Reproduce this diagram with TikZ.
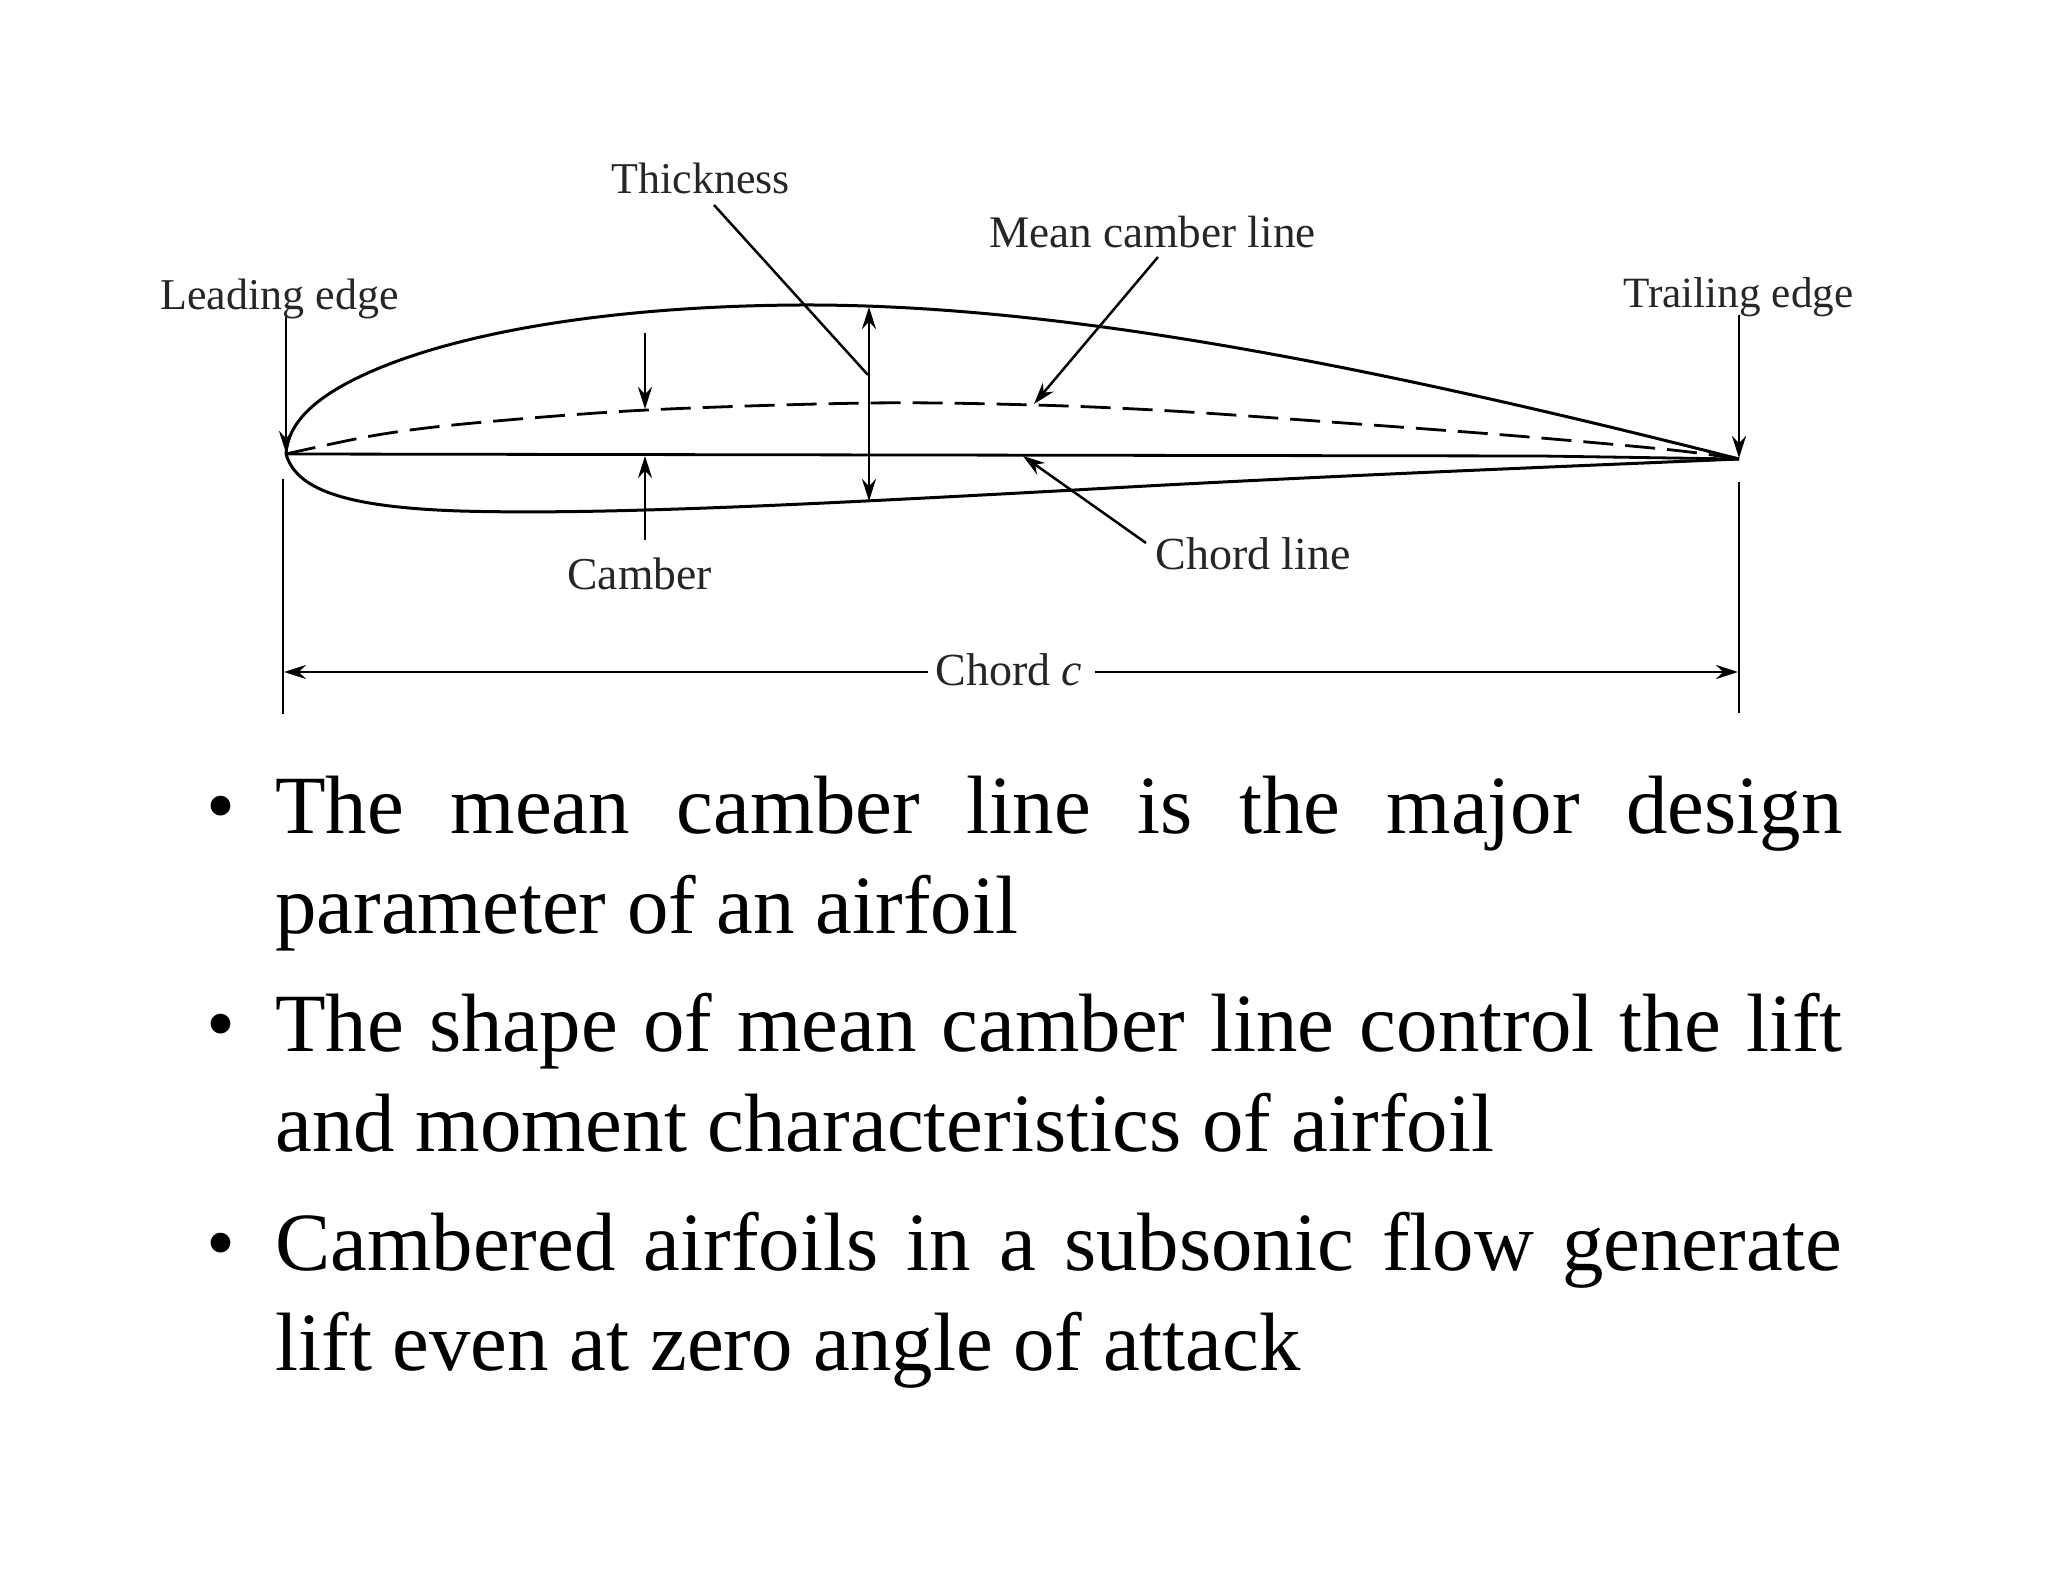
\documentclass[tikz,border=0pt]{standalone}
\usepackage{fontspec}
\setmainfont{Liberation Serif}
\usetikzlibrary{arrows.meta}
\newcommand{\labsize}[1]{\fontsize{#1}{24}\selectfont}
\tikzset{
  foil/.style={line width=1.5pt,black,line join=round},
  camberline/.style={line width=1.4pt,black,dash pattern=on 15pt off 6pt},
  chordl/.style={line width=1.4pt,black},
  leader/.style={line width=1.25pt,black},
  tip/.style={-{Stealth[length=11pt,width=7pt]}},
  tiptwo/.style={{Stealth[length=11pt,width=7pt]}-{Stealth[length=11pt,width=7pt]}},
  lab/.style={anchor=base west,inner sep=0pt,text=black!85},
  body/.style={anchor=base west,inner sep=0pt,font=\fontsize{41.4}{50}\selectfont,text=black},
  dot/.style={anchor=base,inner sep=0pt,font=\fontsize{41.4}{50}\selectfont,text=black}
}
\begin{document}
\begin{tikzpicture}[x=0.5pt,y=-0.5pt]
\useasboundingbox (0,0) rectangle (2048,1582);
% key points
\coordinate (le) at (286,454);
\coordinate (te) at (1739,459);
% airfoil
\draw[foil] (le) .. controls (288,420) and (320,393) .. (377,369)
  .. controls (470,330) and (620,306) .. (800,305)
  .. controls (1050,304) and (1350,360) .. (te);
\draw[foil] (le) .. controls (296,488) and (340,507) .. (460,511)
  .. controls (600,515) and (800,505) .. (1075,490)
  .. controls (1300,477) and (1550,467) .. (te);
\draw[camberline] plot[smooth,tension=0.55] coordinates {(286,454) (377,435) (474,423) (647,410) (870,403) (1034,405) (1172,411) (1344,423) (1517,436) (1672,450) (1739,459)};
\draw[chordl] (le) -- (1540,456) -- (te);
% labels
\node[lab,font=\labsize{22}] (thick) at (611,194) {Thickness};
\node[lab,font=\labsize{22}] (lead) at (160,310) {Leading edge};
\node[lab,font=\labsize{22.6}] (mean) at (989,248) {Mean camber line};
\node[lab,font=\labsize{21.6}] (trail) at (1623,308) {Trailing edge};
\node[lab,font=\labsize{22.8}] (camb) at (567,589) {Camber};
\node[lab,font=\labsize{23}] (cline) at (1155,570) {Chord line};
\node[lab,font=\labsize{23}] (clen) at (935,685) {Chord \textit{c}};
% connector ends
\coordinate (thA) at (714,205);
\coordinate (thB) at (868,375);
\coordinate (tU) at (869,307);
\coordinate (tL) at (869,501);
\coordinate (mA) at (1158,257);
\coordinate (mB) at (1034,404);
\coordinate (cA) at (1146,543);
\coordinate (cB) at (1023,456);
\coordinate (cuA) at (645,333);
\coordinate (cuB) at (645,409);
\coordinate (clA) at (645,540);
\coordinate (clB) at (645,456);
\coordinate (leA) at (286,317);
\coordinate (leB) at (286,453);
\coordinate (teA) at (1739,315);
\coordinate (teB) at (1739,458);
\coordinate (xlA) at (283,479);
\coordinate (xlB) at (283,714);
\coordinate (xrA) at (1739,482);
\coordinate (xrB) at (1739,713);
\coordinate (dlA) at (928,672);
\coordinate (dlB) at (284,672);
\coordinate (drA) at (1095,672);
\coordinate (drB) at (1738,672);
% leaders and arrows
\draw[leader] (thA) -- (thB);
\draw[leader,tiptwo] (tU) -- (tL);
\draw[leader,tip] (mA) -- (mB);
\draw[leader,tip] (cA) -- (cB);
\draw[leader,tip] (cuA) -- (cuB);
\draw[leader,tip] (clA) -- (clB);
\draw[leader,tip] (leA) -- (leB);
\draw[leader,tip] (teA) -- (teB);
\draw[leader] (xlA) -- (xlB);
\draw[leader] (xrA) -- (xrB);
\draw[leader,tip] (dlA) -- (dlB);
\draw[leader,tip] (drA) -- (drB);
% body text
\node[dot] (b1) at (221,833) {•};
\node[body] (l1) at (275,833) {\hbox to 783.5pt{The\hfill mean\hfill camber\hfill line\hfill is\hfill the\hfill major\hfill design}};
\node[body] (l2) at (275,933) {parameter of an airfoil};
\node[dot] (b2) at (221,1051) {•};
\node[body] (l3) at (275,1051) {\hbox to 783.5pt{The\hfill shape\hfill of\hfill mean\hfill camber\hfill line\hfill control\hfill the\hfill lift}};
\node[body] (l4) at (275,1151) {and moment characteristics of airfoil};
\node[dot] (b3) at (221,1270) {•};
\node[body] (l5) at (275,1270) {\hbox to 783.5pt{Cambered\hfill airfoils\hfill in\hfill a\hfill subsonic\hfill flow\hfill generate}};
\node[body] (l6) at (275,1370) {lift even at zero angle of attack};
\end{tikzpicture}
\end{document}
